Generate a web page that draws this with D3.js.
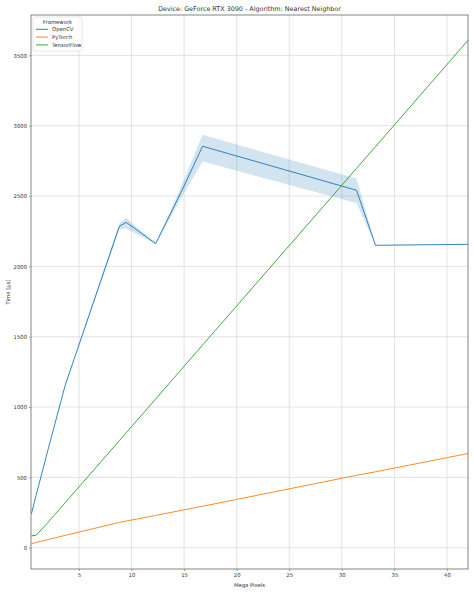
<!DOCTYPE html>
<html lang="en">
<head>
<meta charset="UTF-8">
<title>Nearest Neighbor</title>
<script src="https://d3js.org/d3.v7.min.js"></script>
<style>
  body { margin: 0; background: #fff; }
  text { font-family: 'DejaVu Sans', sans-serif; fill: #333; }
</style>
</head>
<body>
<script>
// megapixels
const megaPixels = [0.48, 0.92, 2.07, 3.69, 8.85, 9.5, 12.3, 14.7, 16.76, 31.4, 33.2, 42.0];
const openCV      = [242, 372, 700, 1155, 2286, 2313, 2162, 2525, 2854, 2541, 2150, 2157];
const openCVHigh  = [242, 372, 700, 1155, 2306, 2344, 2166, 2565, 2935, 2625, 2150, 2157];
const openCVLow   = [242, 372, 700, 1155, 2264, 2270, 2158, 2485, 2745, 2450, 2150, 2157];
const pyTorch     = [28, 38, 58, 88, 180, 190, 230, 265, 295, 515, 540, 670];
const tensorFlow  = [85, 88, 181, 320, 762, 818, 1058, 1264, 1441, 2697, 2851, 3607];
const xTicks = [5, 10, 15, 20, 25, 30, 35, 40];
const yTicks = [0, 500, 1000, 1500, 2000, 2500, 3000, 3500];
const frameworks = ["OpenCV", "PyTorch", "TensorFlow"];
const colors = ["#1f77b4", "#ff7f0e", "#2ca02c"];

const W = 474, H = 592;
const m = {top: 15, right: 6, bottom: 23, left: 31};

const svg = d3.select("body").append("svg").attr("width", W).attr("height", H);

const x = d3.scaleLinear().domain([0.44, 42.0]).range([m.left, W - m.right]);
const y = d3.scaleLinear().domain([-151, 3787]).range([H - m.bottom, m.top]);

// grid
svg.append("g").selectAll("line").data(xTicks).join("line")
    .attr("x1", d => x(d)).attr("x2", d => x(d))
    .attr("y1", m.top).attr("y2", H - m.bottom)
    .attr("stroke", "#d0d0d0").attr("stroke-width", 0.6);
svg.append("g").selectAll("line").data(yTicks).join("line")
    .attr("x1", m.left).attr("x2", W - m.right)
    .attr("y1", d => y(d)).attr("y2", d => y(d))
    .attr("stroke", "#d0d0d0").attr("stroke-width", 0.6);

// confidence band
const rows = megaPixels.map((mp, i) => ({mp, lo: openCVLow[i], hi: openCVHigh[i]}));
svg.append("path").datum(rows)
    .attr("d", d3.area().x(d => x(d.mp)).y0(d => y(d.lo)).y1(d => y(d.hi)))
    .attr("fill", "#1f77b4").attr("fill-opacity", 0.2);

const series = [openCV, pyTorch, tensorFlow];
const line = d3.line().x(d => x(d[0])).y(d => y(d[1]));
series.forEach((s, i) => {
    svg.append("path").datum(megaPixels.map((mp, j) => [mp, s[j]]))
        .attr("d", line).attr("fill", "none")
        .attr("stroke", colors[i]).attr("stroke-width", 0.9);
});

// axes
const xAxis = svg.append("g").attr("transform", `translate(0,${H - m.bottom})`)
    .call(d3.axisBottom(x).tickValues(xTicks).tickSize(2).tickPadding(2));
const yAxis = svg.append("g").attr("transform", `translate(${m.left},0)`)
    .call(d3.axisLeft(y).tickValues(yTicks).tickFormat(d3.format("d")).tickSize(2).tickPadding(2));
[xAxis, yAxis].forEach(a => {
    a.select(".domain").remove();
    a.selectAll("text").style("font-family", "'DejaVu Sans', sans-serif")
        .style("font-size", "5.3px").attr("fill", "#333");
    a.selectAll("line").attr("stroke", "#444").attr("stroke-width", 0.5);
});

// frame
svg.append("rect").attr("x", m.left).attr("y", m.top)
    .attr("width", W - m.right - m.left).attr("height", H - m.bottom - m.top)
    .attr("fill", "none").attr("stroke", "#666").attr("stroke-width", 0.8);

svg.append("text").attr("x", (m.left + W - m.right) / 2).attr("y", 11)
    .attr("text-anchor", "middle").style("font-size", "6.4px")
    .text("Device: GeForce RTX 3090 - Algorithm: Nearest Neighbor");
svg.append("text").attr("x", (m.left + W - m.right) / 2).attr("y", H - 5.5)
    .attr("text-anchor", "middle").style("font-size", "5.3px").text("Mega Pixels");
svg.append("text").attr("transform", `translate(9.5,${(m.top + H - m.bottom) / 2}) rotate(-90)`)
    .attr("text-anchor", "middle").style("font-size", "5.3px").text("Time [µs]");

// legend
const lg = svg.append("g").attr("transform", "translate(33,17)");
lg.append("rect").attr("width", 49).attr("height", 34).attr("rx", 1.5)
    .attr("fill", "#fff").attr("fill-opacity", 0.8).attr("stroke", "#ccc").attr("stroke-width", 0.5);
lg.append("text").attr("x", 24.5).attr("y", 6.6).attr("text-anchor", "middle")
    .style("font-size", "5.3px").text("Framework");
frameworks.forEach((f, i) => {
    const yy = 12.3 + i * 7.8;
    lg.append("line").attr("x1", 3).attr("x2", 15).attr("y1", yy).attr("y2", yy)
        .attr("stroke", colors[i]).attr("stroke-width", 0.9);
    lg.append("text").attr("x", 19).attr("y", yy + 1.9).style("font-size", "5.3px").text(f);
});
</script>
</body>
</html>
